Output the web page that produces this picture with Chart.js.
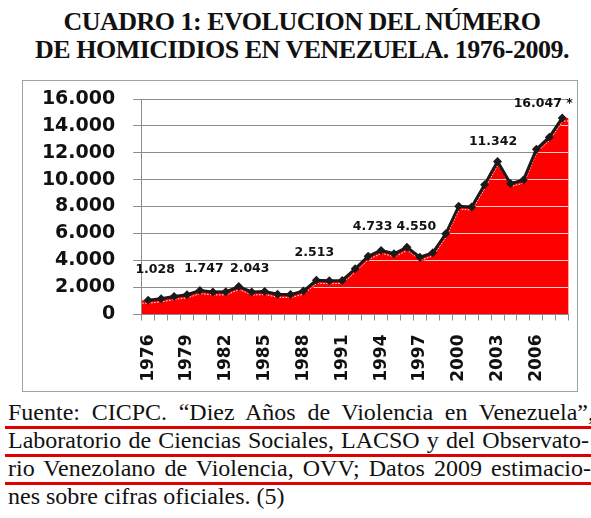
<!DOCTYPE html>
<html>
<head>
<meta charset="utf-8">
<script src="https://cdn.jsdelivr.net/npm/chart.js@4.4.1/dist/chart.umd.min.js"></script>
<style>
html,body{margin:0;padding:0;background:#fff;width:591px;height:518px;overflow:hidden;position:relative}
#title{position:absolute;left:0;top:8px;width:604px;text-align:center;font:bold 26px/28px "Liberation Serif",serif;letter-spacing:-0.5px;color:#111}
#box{position:absolute;left:22px;top:80px;width:556px;height:312px;border:1px solid #a0a0a0;box-sizing:border-box}
#c{position:absolute;left:23px;top:81px}
.fl{position:absolute;left:8px;font:24px/28px "Liberation Serif",serif;color:#111;text-align:justify;text-align-last:justify}
.fl.last{text-align:left;text-align-last:left}
.ul{position:absolute;left:5px;width:590px;height:3px;background:#e00000}
</style>
</head>
<body>
<div id="title">CUADRO 1: EVOLUCION DEL NÚMERO<br>DE HOMICIDIOS EN VENEZUELA. 1976-2009.</div>
<div id="box"></div>
<canvas id="c" width="554" height="310" style="width:554px;height:310px"></canvas>
<div class="fl" style="top:398px;width:586px">Fuente: CICPC. “Diez Años de Violencia en Venezuela”,</div>
<div class="fl" style="top:426px;width:581px">Laboratorio de Ciencias Sociales, LACSO y del Observato-</div>
<div class="fl" style="top:454px;width:583px">rio Venezolano de Violencia, OVV; Datos 2009 estimacio-</div>
<div class="fl last" style="top:482px;width:583px">nes sobre cifras oficiales. (5)</div>
<div class="ul" style="top:426px"></div>
<div class="ul" style="top:454px"></div>
<div class="ul" style="top:482px"></div>
<script>
// ---- data ----
const years = ['1976','1977','1978','1979','1980','1981','1982','1983','1984','1985','1986','1987','1988','1989','1990','1991','1992','1993','1994','1995','1996','1997','1998','1999','2000','2001','2002','2003','2004','2005','2006','2007','2008'];
const homicides = [1028,1128,1307,1432,1747,1637,1648,2043,1639,1669,1466,1445,1709,2513,2474,2502,3366,4292,4733,4481,4961,4225,4550,5968,8022,7960,9617,11342,9719,9964,12257,13156,14589];
const shownYearLabels = ['1976','1979','1982','1985','1988','1991','1994','1997','2000','2003','2006'];
const yTickValues = [0,2000,4000,6000,8000,10000,12000,14000,16000];
const yTickLabels = ['0','2.000','4.000','6.000','8.000','10.000','12.000','14.000','16.000'];
const annotYears = ['1976','1980','1983','1989','1994','1998','2003','2008'];
const annotTexts = ['1.028','1.747','2.043','2.513','4.733','4.550','11.342','16.047 *'];

// ---- style ----
const annotOffsets = [[7,-27],[4,-18.5],[11,-14.5],[-2,-24],[-8.5,-20],[-16.5,-23],[-4.5,-16.6],[-19,-10.5]];
const AREA_SHIFT = [0.5, 3];
const GRID = '#8c8c8c';
const INK = '#111111';

const areaData = [{x:-0.5, y:homicides[0]}]
  .concat(homicides.map((v,i)=>({x:i, y:v})))
  .concat([{x:homicides.length-0.5, y:homicides[homicides.length-1]}]);

function noPad(s){ s.paddingTop=0; s.paddingBottom=0; s.paddingLeft=0; s.paddingRight=0; }

const areaPlugin = {
  id:'areaShift',
  beforeDatasetDraw(chart,args){
    if(args.index!==0) return;
    const {ctx, chartArea:a} = chart;
    ctx.save();
    ctx.beginPath(); ctx.rect(a.left,a.top,a.right-a.left,a.bottom-a.top); ctx.clip();
    ctx.translate(AREA_SHIFT[0], AREA_SHIFT[1]);
  },
  afterDatasetDraw(chart,args){
    if(args.index!==0) return;
    const {ctx, chartArea:a} = chart;
    ctx.restore();
    const pts = chart.getDatasetMeta(0).data;
    const ys = chart.scales.y;
    const sx = AREA_SHIFT[0], sy = AREA_SHIFT[1];
    ctx.save();
    ctx.beginPath(); ctx.rect(a.left,a.top,a.right-a.left,a.bottom-a.top); ctx.clip();
    ctx.beginPath();
    ctx.moveTo(pts[0].x+sx, a.bottom);
    pts.forEach(p=>ctx.lineTo(p.x+sx, p.y+sy+1.5));
    ctx.lineTo(pts[pts.length-1].x+sx, a.bottom);
    ctx.closePath(); ctx.clip();
    ctx.strokeStyle='rgba(255,215,215,0.95)'; ctx.lineWidth=1;
    yTickValues.forEach(v=>{
      if(v===0) return;
      const y = Math.floor(ys.getPixelForValue(v))+0.5;
      ctx.beginPath(); ctx.moveTo(a.left,y); ctx.lineTo(a.right,y); ctx.stroke();
    });
    ctx.restore();
  }
};

const labelPlugin = {
  id:'valueLabels',
  afterDatasetsDraw(chart){
    const {ctx} = chart;
    const xs = chart.scales.x, ys = chart.scales.y;
    ctx.save();
    ctx.font = 'bold 12.5px "DejaVu Sans"';
    ctx.fillStyle = INK; ctx.textAlign='center'; ctx.textBaseline='alphabetic';
    annotYears.forEach((yr,k)=>{
      const i = years.indexOf(yr);
      const x = xs.getPixelForValue(i) + annotOffsets[k][0];
      const y = ys.getPixelForValue(homicides[i]) + annotOffsets[k][1];
      ctx.fillText(annotTexts[k], x, y);
    });
    ctx.restore();
  }
};

const bgPlugin = {
  id:'bg',
  beforeDraw(chart){ const c=chart.ctx; c.save(); c.fillStyle='#fff'; c.fillRect(0,0,chart.width,chart.height); c.restore(); }
};

new Chart(document.getElementById('c'), {
  type:'line',
  data:{
    labels: years,
    datasets:[
      { data: areaData, xAxisID:'xa', yAxisID:'y', fill:'origin', backgroundColor:'#ff0000',
        borderColor:'rgba(255,255,255,0.95)', borderWidth:1, borderDash:[1.5,1.5], pointRadius:0, tension:0, order:2 },
      { data: homicides, xAxisID:'x', yAxisID:'y', fill:false, borderColor:'#1a1a1a', borderWidth:3,
        pointStyle:'rectRot', pointRadius:4.5, pointBackgroundColor:'#1a1a1a', pointBorderColor:'#1a1a1a', pointBorderWidth:0, tension:0, order:1 }
    ]
  },
  options:{
    responsive:false, animation:false,
    layout:{padding:{top:18, right:8.3, left:0, bottom:0}},
    plugins:{legend:{display:false}, tooltip:{enabled:false}},
    scales:{
      x:{ type:'category', offset:true, position:'bottom',
        grid:{offset:true, drawOnChartArea:false, drawTicks:true, tickLength:6.5, color:GRID},
        border:{color:GRID},
        ticks:{autoSkip:false, minRotation:90, maxRotation:90, padding:14, color:INK,
          font:{family:'DejaVu Sans', weight:'bold', size:17},
          callback:function(v,i){ const l=years[i]; return shownYearLabels.includes(l)?l:''; }},
        afterFit(s){ s.height = 77; noPad(s); }
      },
      xa:{ type:'linear', display:false, min:-0.5, max:homicides.length-0.5, offset:false, afterFit(s){ noPad(s); } },
      y:{ min:0, max:16000,
        afterBuildTicks(s){ s.ticks = yTickValues.map(v=>({value:v})); },
        grid:{color:GRID, tickLength:8.5, lineWidth:1},
        border:{color:GRID},
        ticks:{autoSkip:false, padding:18, color:INK, font:{family:'DejaVu Sans', weight:'bold', size:19},
          callback:function(v){ const k=yTickValues.indexOf(v); return k>=0?yTickLabels[k]:''; }},
        afterFit(s){ s.width = 118.7; noPad(s); }
      }
    }
  },
  plugins:[bgPlugin, areaPlugin, labelPlugin]
});
</script>
</body>
</html>
